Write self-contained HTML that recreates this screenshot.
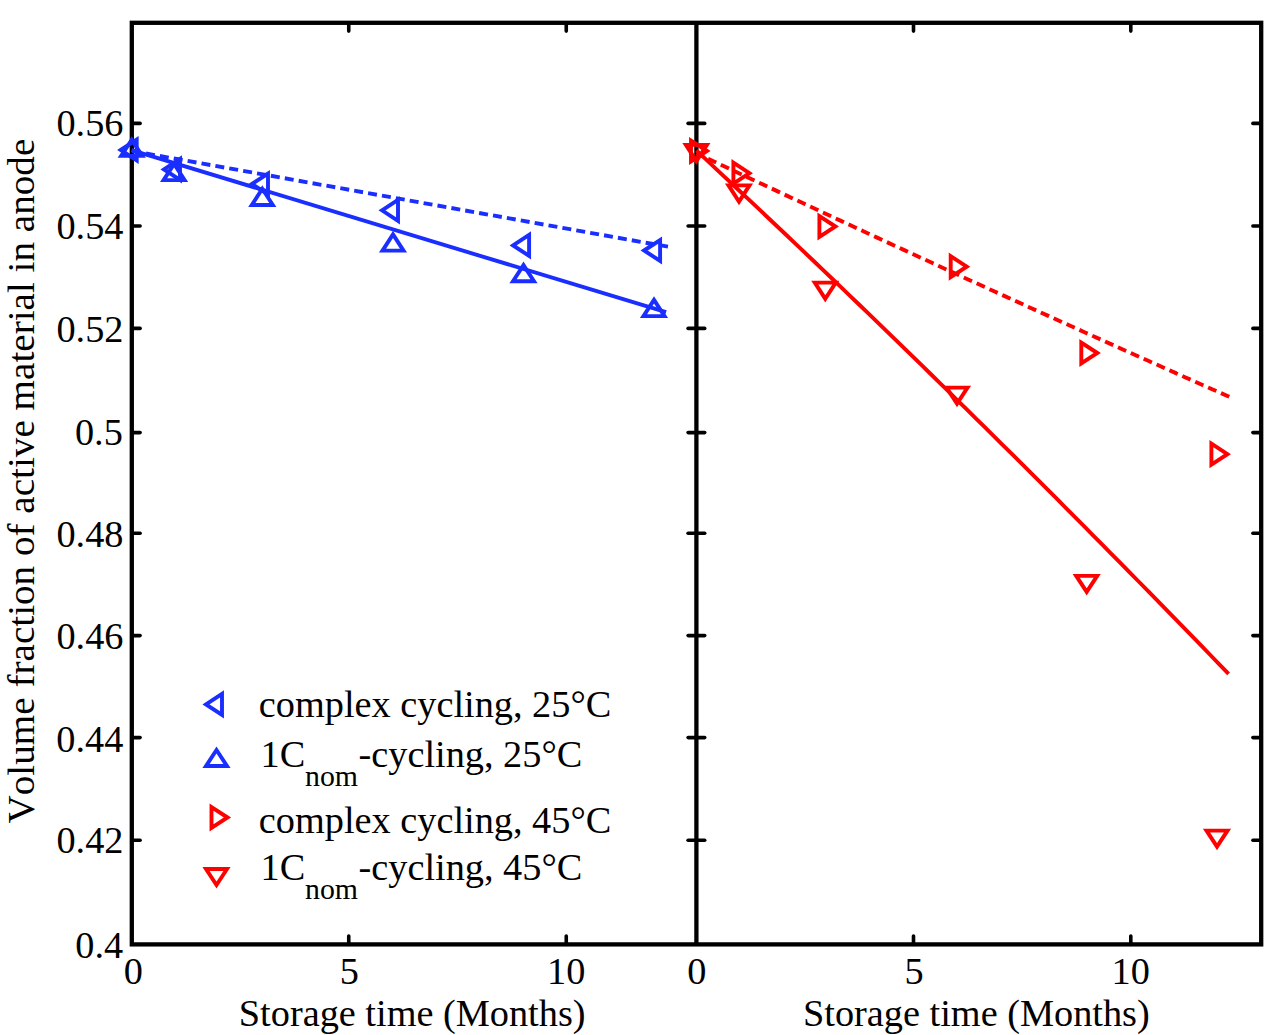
<!DOCTYPE html>
<html><head><meta charset="utf-8"><title>Volume fraction chart</title>
<style>html,body{margin:0;padding:0;background:#fff;width:1280px;height:1035px;overflow:hidden;font-family:"Liberation Serif",serif}</style>
</head><body>
<svg width="1280" height="1035" viewBox="0 0 1280 1035" style="position:absolute;left:0;top:0">
<rect width="1280" height="1035" fill="#fff"/>
<g stroke="#000" fill="none" stroke-width="4.3">
<rect x="131.8" y="22.8" width="1129.4" height="921.6"/>
<line x1="696.4" y1="22.8" x2="696.4" y2="944.4"/>
</g>
<g stroke="#000" stroke-width="3.6" stroke-linecap="round">
<line x1="131.8" y1="123.40" x2="140.10000000000002" y2="123.40"/>
<line x1="688.1" y1="123.40" x2="704.6999999999999" y2="123.40"/>
<line x1="1252.9" y1="123.40" x2="1261.2" y2="123.40"/>
<line x1="131.8" y1="226.00" x2="140.10000000000002" y2="226.00"/>
<line x1="688.1" y1="226.00" x2="704.6999999999999" y2="226.00"/>
<line x1="1252.9" y1="226.00" x2="1261.2" y2="226.00"/>
<line x1="131.8" y1="328.40" x2="140.10000000000002" y2="328.40"/>
<line x1="688.1" y1="328.40" x2="704.6999999999999" y2="328.40"/>
<line x1="1252.9" y1="328.40" x2="1261.2" y2="328.40"/>
<line x1="131.8" y1="432.60" x2="140.10000000000002" y2="432.60"/>
<line x1="688.1" y1="432.60" x2="704.6999999999999" y2="432.60"/>
<line x1="1252.9" y1="432.60" x2="1261.2" y2="432.60"/>
<line x1="131.8" y1="533.20" x2="140.10000000000002" y2="533.20"/>
<line x1="688.1" y1="533.20" x2="704.6999999999999" y2="533.20"/>
<line x1="1252.9" y1="533.20" x2="1261.2" y2="533.20"/>
<line x1="131.8" y1="635.60" x2="140.10000000000002" y2="635.60"/>
<line x1="688.1" y1="635.60" x2="704.6999999999999" y2="635.60"/>
<line x1="1252.9" y1="635.60" x2="1261.2" y2="635.60"/>
<line x1="131.8" y1="737.60" x2="140.10000000000002" y2="737.60"/>
<line x1="688.1" y1="737.60" x2="704.6999999999999" y2="737.60"/>
<line x1="1252.9" y1="737.60" x2="1261.2" y2="737.60"/>
<line x1="131.8" y1="840.30" x2="140.10000000000002" y2="840.30"/>
<line x1="688.1" y1="840.30" x2="704.6999999999999" y2="840.30"/>
<line x1="1252.9" y1="840.30" x2="1261.2" y2="840.30"/>
<line x1="348.75" y1="22.8" x2="348.75" y2="31.1"/>
<line x1="348.75" y1="936.1" x2="348.75" y2="944.4"/>
<line x1="913.50" y1="22.8" x2="913.50" y2="31.1"/>
<line x1="913.50" y1="936.1" x2="913.50" y2="944.4"/>
<line x1="566.25" y1="22.8" x2="566.25" y2="31.1"/>
<line x1="566.25" y1="936.1" x2="566.25" y2="944.4"/>
<line x1="1130.80" y1="22.8" x2="1130.80" y2="31.1"/>
<line x1="1130.80" y1="936.1" x2="1130.80" y2="944.4"/>
</g>
<g fill="none" stroke-width="3.9" stroke-linecap="butt">
<line x1="131.5" y1="150.9" x2="668" y2="246.7" stroke="#1a2eff" stroke-dasharray="9 5.1" stroke-dashoffset="-0.6"/>
<line x1="131.5" y1="150.16" x2="666.1" y2="312.23" stroke="#1a2eff"/>
<path d="M696.40,153.14 L705.44,157.40 L714.47,161.67 L723.51,165.93 L732.55,170.18 L741.59,174.43 L750.62,178.68 L759.66,182.92 L768.70,187.15 L777.74,191.38 L786.77,195.61 L795.81,199.83 L804.85,204.05 L813.88,208.26 L822.92,212.47 L831.96,216.67 L841.00,220.87 L850.03,225.06 L859.07,229.25 L868.11,233.44 L877.15,237.61 L886.18,241.79 L895.22,245.96 L904.26,250.12 L913.29,254.28 L922.33,258.44 L931.37,262.59 L940.41,266.74 L949.44,270.88 L958.48,275.02 L967.52,279.15 L976.56,283.28 L985.59,287.40 L994.63,291.52 L1003.67,295.63 L1012.71,299.74 L1021.74,303.84 L1030.78,307.94 L1039.82,312.04 L1048.85,316.13 L1057.89,320.21 L1066.93,324.29 L1075.97,328.37 L1085.00,332.44 L1094.04,336.50 L1103.08,340.56 L1112.12,344.62 L1121.15,348.67 L1130.19,352.72 L1139.23,356.76 L1148.26,360.80 L1157.30,364.84 L1166.34,368.86 L1175.38,372.89 L1184.41,376.91 L1193.45,380.92 L1202.49,384.93 L1211.53,388.94 L1220.56,392.94 L1229.60,396.93" stroke="#ff0000" stroke-dasharray="9 5.1" stroke-dashoffset="1.2"/>
<path d="M696.40,150.54 L705.42,158.94 L714.44,167.36 L723.46,175.80 L732.48,184.25 L741.50,192.71 L750.52,201.20 L759.54,209.70 L768.56,218.21 L777.58,226.74 L786.60,235.29 L795.62,243.86 L804.64,252.44 L813.66,261.03 L822.68,269.64 L831.71,278.27 L840.73,286.92 L849.75,295.58 L858.77,304.26 L867.79,312.95 L876.81,321.66 L885.83,330.38 L894.85,339.12 L903.87,347.88 L912.89,356.66 L921.91,365.45 L930.93,374.25 L939.95,383.08 L948.97,391.91 L957.99,400.77 L967.01,409.64 L976.03,418.53 L985.05,427.43 L994.07,436.35 L1003.09,445.28 L1012.11,454.24 L1021.13,463.20 L1030.15,472.19 L1039.17,481.19 L1048.19,490.20 L1057.21,499.24 L1066.23,508.28 L1075.25,517.35 L1084.27,526.43 L1093.29,535.53 L1102.32,544.64 L1111.34,553.77 L1120.36,562.92 L1129.38,572.08 L1138.40,581.25 L1147.42,590.45 L1156.44,599.66 L1165.46,608.89 L1174.48,618.13 L1183.50,627.39 L1192.52,636.66 L1201.54,645.95 L1210.56,655.26 L1219.58,664.58 L1228.60,673.92" stroke="#ff0000"/>
</g>
<g fill="none" stroke-width="3.9" stroke-linejoin="miter" stroke-miterlimit="3">
<polygon points="120.7,150.0 136.7,139.5 136.7,160.5" stroke="#1a2eff"/>
<polygon points="164.0,169.4 180.0,158.9 180.0,179.9" stroke="#1a2eff"/>
<polygon points="252.0,184.0 268.0,173.5 268.0,194.5" stroke="#1a2eff"/>
<polygon points="382.0,210.3 398.0,199.8 398.0,220.8" stroke="#1a2eff"/>
<polygon points="513.1,245.4 529.1,234.9 529.1,255.9" stroke="#1a2eff"/>
<polygon points="644.1,250.5 660.1,240.0 660.1,261.0" stroke="#1a2eff"/>
<polygon points="131.7,139.8 142.2,155.9 121.2,155.9" stroke="#1a2eff"/>
<polygon points="174.1,163.9 184.6,180.1 163.6,180.1" stroke="#1a2eff"/>
<polygon points="262.3,188.8 272.8,205.0 251.8,205.0" stroke="#1a2eff"/>
<polygon points="393.0,234.4 403.5,250.6 382.5,250.6" stroke="#1a2eff"/>
<polygon points="523.5,265.1 534.0,281.2 513.0,281.2" stroke="#1a2eff"/>
<polygon points="654.0,299.9 664.5,316.1 643.5,316.1" stroke="#1a2eff"/>
<polygon points="707.0,151.0 691.0,140.5 691.0,161.5" stroke="#ff0000"/>
<polygon points="749.4,173.2 733.4,162.7 733.4,183.7" stroke="#ff0000"/>
<polygon points="835.4,226.5 819.4,216.0 819.4,237.0" stroke="#ff0000"/>
<polygon points="966.7,266.7 950.7,256.2 950.7,277.2" stroke="#ff0000"/>
<polygon points="1097.3,353.0 1081.3,342.5 1081.3,363.5" stroke="#ff0000"/>
<polygon points="1227.4,454.2 1211.4,443.7 1211.4,464.7" stroke="#ff0000"/>
<polygon points="696.4,161.1 706.9,144.9 685.9,144.9" stroke="#ff0000"/>
<polygon points="739.0,201.6 749.5,185.4 728.5,185.4" stroke="#ff0000"/>
<polygon points="825.3,298.8 835.8,282.6 814.8,282.6" stroke="#ff0000"/>
<polygon points="957.0,403.7 967.5,387.6 946.5,387.6" stroke="#ff0000"/>
<polygon points="1086.7,591.9 1097.2,575.9 1076.2,575.9" stroke="#ff0000"/>
<polygon points="1217.0,846.6 1227.5,830.6 1206.5,830.6" stroke="#ff0000"/>
</g>
<g font-family="'Liberation Serif', serif" font-size="38.3" fill="#000" style="font-kerning:none">
<text x="123.5" y="136.2" text-anchor="end">0.56</text>
<text x="123.5" y="238.6" text-anchor="end">0.54</text>
<text x="123.5" y="341.6" text-anchor="end">0.52</text>
<text x="122.8" y="445.0" text-anchor="end">0.5</text>
<text x="123.5" y="546.6" text-anchor="end">0.48</text>
<text x="123.5" y="649.2" text-anchor="end">0.46</text>
<text x="123.4" y="751.6" text-anchor="end">0.44</text>
<text x="123.5" y="852.7" text-anchor="end">0.42</text>
<text x="123.2" y="957.7" text-anchor="end">0.4</text>
<text x="133.3" y="983.6" text-anchor="middle">0</text>
<text x="349.35" y="983.6" text-anchor="middle">5</text>
<text x="566.15" y="983.6" text-anchor="middle">10</text>
<text x="696.9" y="983.6" text-anchor="middle">0</text>
<text x="914.05" y="983.6" text-anchor="middle">5</text>
<text x="1130.65" y="983.6" text-anchor="middle">10</text>
<text x="412.2" y="1026" text-anchor="middle">Storage time (Months)</text>
<text x="976.4" y="1026" text-anchor="middle">Storage time (Months)</text>
<text transform="translate(33.6,481.1) rotate(-90) scale(1.0224,1)" text-anchor="middle">Volume fraction of active material in anode</text>
<text x="258.8" y="716.9">complex cycling, 25°C</text>
<text x="260.5" y="767">1C</text><text x="305" y="785.8" font-size="29.8">nom</text><text x="358.5" y="767">-cycling, 25°C</text>
<text x="258.8" y="833">complex cycling, 45°C</text>
<text x="260.5" y="879.9">1C</text><text x="305" y="899.1" font-size="29.8">nom</text><text x="358.5" y="879.9">-cycling, 45°C</text>
</g>
<g fill="none" stroke-width="3.9" stroke-linejoin="miter" stroke-miterlimit="3">
<polygon points="206.0,704.4 222.0,693.9 222.0,714.9" stroke="#1a2eff"/>
<polygon points="216.5,750.0 227.0,766.0 206.0,766.0" stroke="#1a2eff"/>
<polygon points="227.5,817.5 211.5,807.0 211.5,828.0" stroke="#ff0000"/>
<polygon points="216.5,885.0 227.0,869.0 206.0,869.0" stroke="#ff0000"/>
</g>
</svg>
</body></html>
